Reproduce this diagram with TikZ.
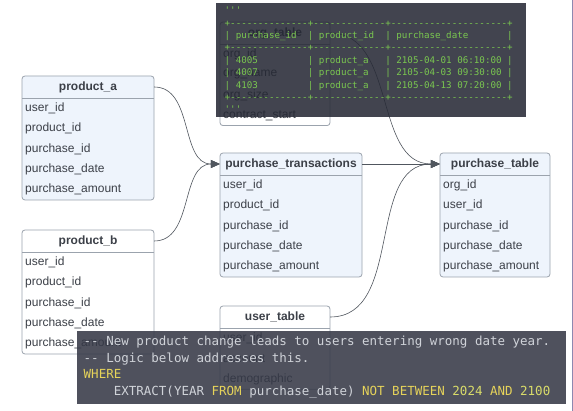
\documentclass[tikz,border=0pt]{standalone}
\usepackage{fontspec}
\setmainfont{Liberation Sans}
\setmonofont{DejaVu Sans Mono}
\usetikzlibrary{arrows.meta}
\definecolor{tblfill}{HTML}{EEF4FC}
\definecolor{tblline}{HTML}{9BA3AD}
\definecolor{tbltext}{HTML}{3C4048}
\definecolor{conn}{HTML}{50565E}
\definecolor{codebgA}{HTML}{262935}
\definecolor{codebgB}{HTML}{353846}
\definecolor{codegreen}{HTML}{7AC74F}
\definecolor{cmt}{HTML}{D0D3D9}
\definecolor{kwy}{HTML}{E6D35A}
\definecolor{numy}{HTML}{D9DC6A}
\definecolor{edgeline}{HTML}{8E88B0}
\newcommand\kw[1]{\textcolor{kwy}{#1}}
\newcommand\nm[1]{\textcolor{numy}{#1}}
\newcommand\dbtable[8]{%
  \draw[tblborder, fill=#5] (#2,#3) rectangle ++(#4,{22+#7*20.4});
  \draw[tblborder] (#2,#3+22) -- ++(#4,0);
  \node[hdr, minimum width=#4] (#1) at ({#2+#4/2},{#3+11}) {#6};
  \foreach \r [count=\i] in {#8}
    \node[rowtxt] (#1-\i) at ({#2+3},{#3+22+(\i-0.5)*20.4}) {\r};
}
\tikzset{
  tblborder/.style={draw=tblline, line width=0.8pt, rounded corners=3pt},
  hdr/.style={inner sep=0pt, minimum height=22pt, text=tbltext,
    font=\fontsize{12}{14}\selectfont\bfseries},
  rowtxt/.style={anchor=west, inner sep=0pt, text=tbltext,
    font=\fontsize{12}{14}\selectfont},
  connector/.style={draw=conn, line width=0.6pt},
  arrowed/.style={connector, -{Triangle[length=9pt,width=8pt]}},
  codeA/.style={anchor=base west, inner sep=0pt, text=codegreen,
    font=\fontsize{9.2}{11}\selectfont\ttfamily},
  codeB/.style={anchor=base west, inner sep=0pt, text=cmt,
    font=\fontsize{12.5}{15}\selectfont\ttfamily},
}
\begin{document}
\begin{tikzpicture}[x=1pt,y=-1pt]
\useasboundingbox (0,0) rectangle (573,411);
\fill[white] (0,0) rectangle (573,411);

% tables
\dbtable{ot}{220}{22}{110}{white}{org\_table}{4}{org\_id,org\_name,org\_size,contract\_start}
\dbtable{pa}{22}{76}{132}{tblfill}{product\_a}{5}{user\_id,product\_id,purchase\_id,purchase\_date,purchase\_amount}
\dbtable{pb}{22}{230}{132}{white}{product\_b}{5}{user\_id,product\_id,purchase\_id,purchase\_date,purchase\_amount}
\dbtable{pt}{220}{153}{142}{tblfill}{purchase\_transactions}{5}{user\_id,product\_id,purchase\_id,purchase\_date,purchase\_amount}
\dbtable{ptab}{440}{153}{110}{tblfill}{purchase\_table}{5}{org\_id,user\_id,purchase\_id,purchase\_date,purchase\_amount}
\dbtable{ut}{220}{306}{110}{white}{user\_table}{3}{user\_id,account,demographic}

% connectors
\draw[arrowed] (pa.east) to[out=0,in=180] (pt.west);
\draw[arrowed] (pb.east) to[out=0,in=180] (pt.west);
\draw[arrowed] (pt.east) -- (ptab.west);
\draw[arrowed] (ot.east) to[out=0,in=180] (ptab.west);
\draw[arrowed] (ut.east) to[out=0,in=180] (ptab.west);

% top code box
\fill[codebgA, fill opacity=0.87] (216,3) rectangle (526,117);
\node[codeA] (c0) at (224.5,13.8) {'''};
\node[codeA] (c1) at (224.5,26.2) {+--------------+-------------+---------------------+};
\node[codeA] (c2) at (224.5,38.6) {|~purchase\_id~~|~product\_id~~|~purchase\_date~~~~~~~|};
\node[codeA] (c3) at (224.5,51.0) {+--------------+-------------+---------------------+};
\node[codeA] (c4) at (224.5,63.4) {|~4005~~~~~~~~~|~product\_a~~~|~2105-04-01~06:10:00~|};
\node[codeA] (c5) at (224.5,75.8) {|~4007~~~~~~~~~|~product\_a~~~|~2105-04-03~09:30:00~|};
\node[codeA] (c6) at (224.5,88.2) {|~4103~~~~~~~~~|~product\_a~~~|~2105-04-13~07:20:00~|};
\node[codeA] (c7) at (224.5,100.6) {+--------------+-------------+---------------------+};
\node[codeA] (c8) at (224.5,113.0) {'''};

% bottom code box
\fill[codebgB, fill opacity=0.87] (77,331.5) rectangle (566,404);
\node[codeB] (d1) at (83.5,346) {--~New~product~change~leads~to~users~entering~wrong~date~year.};
\node[codeB] (d2) at (83.5,362.4) {--~Logic~below~addresses~this.};
\node[codeB] (d3) at (83.5,378.8) {\kw{WHERE}};
\node[codeB] (d4) at (83.5,395.2) {~~~~EXTRACT(YEAR~\kw{FROM}~purchase\_date)~\kw{NOT~BETWEEN}~\nm{2024}~\kw{AND}~\nm{2100}};

% right edge line
\draw[edgeline, line width=0.8pt] (572.3,0) -- (572.3,411);
\end{tikzpicture}
\end{document}
